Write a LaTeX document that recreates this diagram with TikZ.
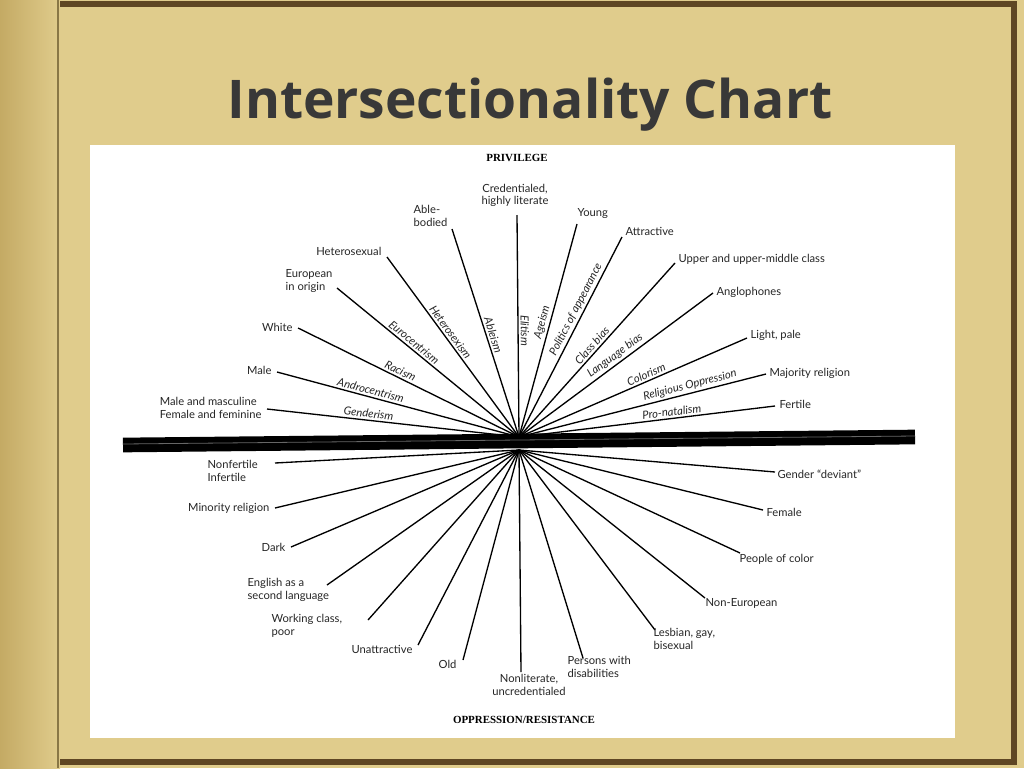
\documentclass[tikz,border=0pt]{standalone}
\usepackage{fontspec}
\setmainfont{Lato}
\newfontfamily\titlefont{Open Sans}
\newfontfamily\capfont{Liberation Serif}
\begin{document}
\begin{tikzpicture}[x=0.75pt,y=-0.75pt,
  ray/.style={line width=1pt,black},
  lab/.style={font=\fontsize{8.4}{9.2}\selectfont,inner sep=1pt,align=left,text=black!85},
  rl/.style={font=\itshape\fontsize{8.4}{9.2}\selectfont,sloped,above,inner sep=1.5pt,text=black!85}]
\useasboundingbox (0,0) rectangle (1024,768);
\definecolor{parch}{RGB}{224,204,140}
\definecolor{parchd}{RGB}{196,170,100}
\definecolor{frame}{RGB}{95,70,35}
\fill[parch] (0,0) rectangle (1024,768);
\fill[left color=parchd,right color=parch] (0,0) rectangle (60,768);
\draw[frame,line width=4pt] (60,4) -- (1014,4) -- (1014,762) -- (60,762);
\draw[parchd!70!black,line width=1pt] (58,0) -- (58,768);
\node[font=\titlefont\bfseries\fontsize{40}{44}\selectfont,text=black!78] (title) at (530,105) {Intersectionality Chart};
\fill[white] (90,145) rectangle (955,738);
\coordinate (c) at (519,437);
\coordinate (d) at (519,450);
\foreach \n/\x/\y in {mf/267/409,ma/277/372,wh/298/328,eu/337/288,he/387/257,ab/452/229,cr/517/215,yo/577/224,at/622/237,up/675/263,an/713/293,li/747/338,mj/766/374,fe/775/406}
  \coordinate (\n) at (\x,\y);
\foreach \n/\x/\y in {nf/275/463,mr/275/508,da/291/547,en/327/585,wc/368/620,un/418/645,ol/463/660,nl/521/672,pd/583/658,lg/655/630,ne/705/598,pc/740/553,fm/763/510,gd/775/472}
  \coordinate (\n) at (\x,\y);
\draw[ray] (c) -- (mf) node[rl,pos=0.6]{Genderism};
\draw[ray] (c) -- (ma) node[rl,pos=0.62]{Androcentrism};
\draw[ray] (c) -- (wh) node[rl,pos=0.55]{Racism};
\draw[ray] (c) -- (eu) node[rl,pos=0.6]{Eurocentrism};
\draw[ray] (c) -- (he) node[rl,pos=0.56]{Heterosexism};
\draw[ray] (c) -- (ab) node[rl,pos=0.48]{Ableism};
\draw[ray] (c) -- (cr) node[rl,pos=0.48]{Elitism};
\draw[ray] (c) -- (yo) node[rl,pos=0.53]{Ageism};
\draw[ray] (c) -- (at) node[rl,pos=0.62]{Politics of appearance};
\draw[ray] (c) -- (up) node[rl,pos=0.5]{Class bias};
\draw[ray] (c) -- (an) node[rl,pos=0.52]{Language bias};
\draw[ray] (c) -- (li) node[rl,pos=0.57]{Colorism};
\draw[ray] (c) -- (mj) node[rl,pos=0.7]{Religious Oppression};
\draw[ray] (c) -- (fe) node[rl,pos=0.6]{Pro-natalism};
\foreach \n in {nf,mr,da,en,wc,un,ol,nl,pd,lg,ne,pc,fm,gd}
  \draw[ray] (d) -- (\n);
\draw[line width=11pt,black] (123,445) -- (915,437);
\draw[line width=0.6pt,black!60] (123,444) -- (915,436);
\node[font=\capfont\bfseries\fontsize{8.2}{9}\selectfont] (priv) at (517,158) {PRIVILEGE};
\node[font=\capfont\bfseries\fontsize{8.2}{9}\selectfont] (opp) at (524,720) {OPPRESSION/RESISTANCE};
\node[lab,anchor=east] at (263,408) {Male and masculine\\Female and feminine};
\node[lab,anchor=east] at (273,370) {Male};
\node[lab,anchor=east] at (294,327) {White};
\node[lab,anchor=east] at (334,281) {European\\in origin};
\node[lab,anchor=east] at (383,251) {Heterosexual};
\node[lab,anchor=east] at (449,216) {Able-\\bodied};
\node[lab,anchor=south,align=center] at (515,208) {Credentialed,\\highly literate};
\node[lab,anchor=west] at (576,214) {Young};
\node[lab,anchor=west] at (624,231) {Attractive};
\node[lab,anchor=west] at (677,259) {Upper and upper-middle class};
\node[lab,anchor=west] at (715,292) {Anglophones};
\node[lab,anchor=west] at (749,335) {Light, pale};
\node[lab,anchor=west] at (768,373) {Majority religion};
\node[lab,anchor=west] at (778,404) {Fertile};
\node[lab,anchor=west] at (776,474) {Gender ``deviant''};
\node[lab,anchor=west] at (765,512) {Female};
\node[lab,anchor=north west] at (738,553) {People of color};
\node[lab,anchor=west] at (704,603) {Non-European};
\node[lab,anchor=north west] at (652,627) {Lesbian, gay,\\bisexual};
\node[lab,anchor=north west] at (566,655) {Persons with\\disabilities};
\node[lab,anchor=north,align=center] at (529,673) {Nonliterate,\\uncredentialed};
\node[lab,anchor=east] at (458,664) {Old};
\node[lab,anchor=east] at (414,649) {Unattractive};
\node[lab,anchor=north west] at (270,613) {Working class,\\poor};
\node[lab,anchor=north west] at (246,577) {English as a\\second language};
\node[lab,anchor=east] at (287,547) {Dark};
\node[lab,anchor=east] at (271,508) {Minority religion};
\node[lab,anchor=north west] at (206,459) {Nonfertile\\Infertile};
\end{tikzpicture}
\end{document}
